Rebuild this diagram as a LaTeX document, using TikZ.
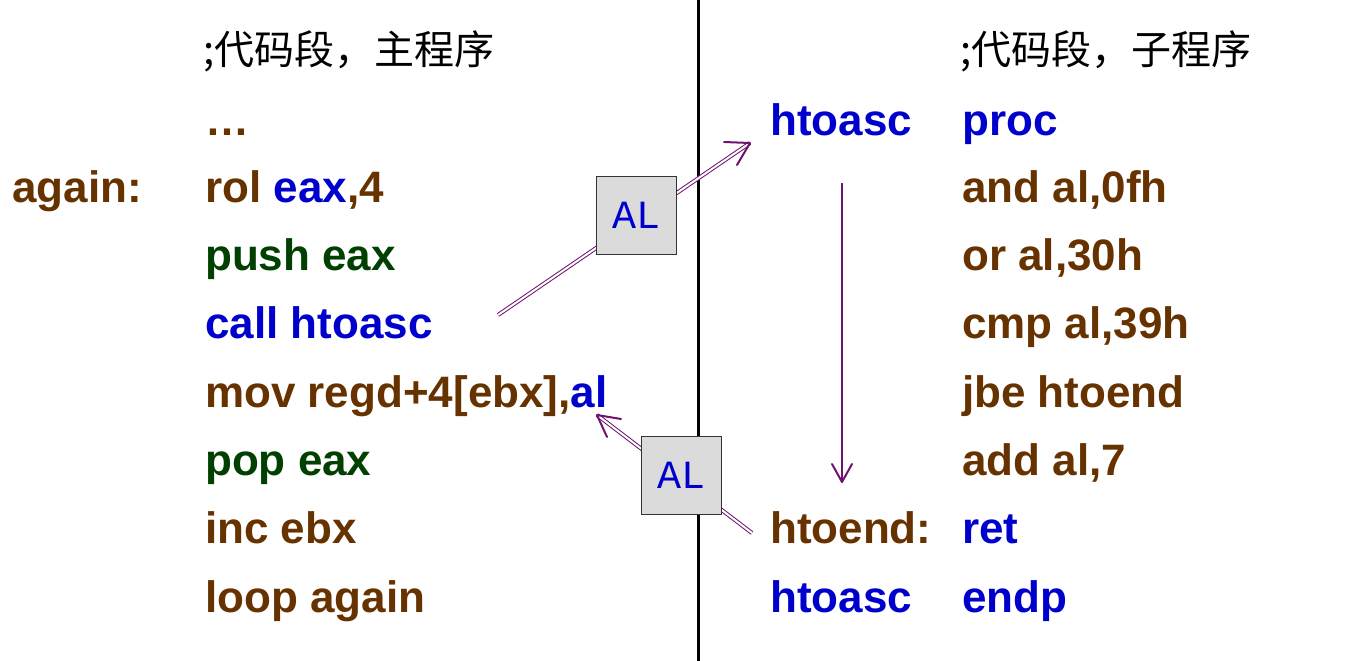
\documentclass[tikz,border=0pt]{standalone}
\usepackage{fontspec}
\setmainfont{Liberation Sans}
\newfontfamily\cjk{Noto Sans CJK SC}
\newfontfamily\almono{Liberation Mono}
\usetikzlibrary{arrows.meta}
\definecolor{br}{RGB}{102,51,0}
\definecolor{gr}{RGB}{0,64,0}
\definecolor{bl}{RGB}{0,0,204}
\definecolor{pu}{RGB}{110,20,110}
\begin{document}
\begin{tikzpicture}[x=1pt,y=-1pt,
  t/.style={anchor=base west,inner sep=0pt,font=\fontsize{44}{44}\selectfont\bfseries},
  c/.style={anchor=base west,inner sep=0pt,font=\fontsize{40}{40}\selectfont\cjk},
  albox/.style={draw=black!80,fill=black!14,minimum width=80pt,minimum height=78pt,inner sep=0pt,font=\fontsize{40}{40}\selectfont\almono\color{bl}},
  dbl/.style={draw=pu,double=white,double distance=2pt,line width=1pt},
]
\useasboundingbox (0,0) rectangle (1349,661);
\draw[line width=3pt] (698,0) -- (698,661);
% left
\node[c] (h1) at (203,65) {;代码段，主程序};
\node[t,br] (d) at (205,135) {…};
\node[t,br] (ag) at (12,202) {again:};
\node[t] (l1) at (205,202) {\color{br}rol \color{bl}eax\color{br},4};
\node[t,gr] (l2) at (205,270) {push eax};
\node[t,bl] (l3) at (205,338) {call htoasc};
\node[t] (l4) at (205,407) {\color{br}mov regd+4[ebx],\color{bl}al};
\node[t,gr] (l5) at (205,475) {pop eax};
\node[t,br] (l6) at (205,543) {inc ebx};
\node[t,br] (l7) at (205,612) {loop again};
% right
\node[c] (h2) at (960,65) {;代码段，子程序};
\node[t,bl] (r0) at (770,135) {htoasc};
\node[t,bl] (r1) at (962,135) {proc};
\node[t,br] (r2) at (962,202) {and al,0fh};
\node[t,br] (r3) at (962,270) {or al,30h};
\node[t,br] (r4) at (962,338) {cmp al,39h};
\node[t,br] (r5) at (962,407) {jbe htoend};
\node[t,br] (r6) at (962,475) {add al,7};
\node[t,br] (r7) at (770,543) {htoend:};
\node[t,bl] (r8) at (962,543) {ret};
\node[t,bl] (r9) at (770,612) {htoasc};
\node[t,bl] (r10) at (962,612) {endp};
% arrows
\coordinate (a1s) at (498,315);
\coordinate (a1e) at (750,143);
\coordinate (a2s) at (752,533);
\coordinate (a2e) at (597,415);
\draw[dbl] (a1s) -- (a1e);
\draw[pu,line width=2pt,line cap=round] (a1e) -- ++(-26,-1) (a1e) -- ++(-13,22);
\draw[dbl] (a2s) -- (a2e);
\draw[pu,line width=2pt,line cap=round] (a2e) -- ++(24,4) (a2e) -- ++(10,22);
\node[albox] (b1) at (636,215) {AL};
\node[albox] (b2) at (681,475) {AL};
\coordinate (v1) at (842,183);
\coordinate (v2) at (842,482);
\draw[pu,line width=1.5pt] (v1) -- (v2);
\draw[pu,line width=2pt,line cap=round] (v2) -- ++(-10,-18) (v2) -- ++(10,-18);
\end{tikzpicture}
\end{document}
